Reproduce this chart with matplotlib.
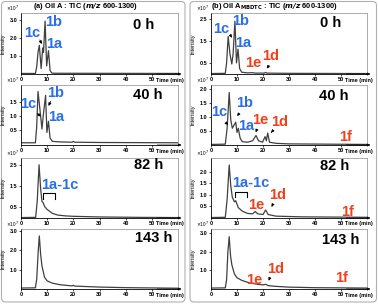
import matplotlib
matplotlib.use("Agg")
import matplotlib.pyplot as plt
from matplotlib.patches import FancyBboxPatch

plt.rcParams['font.family'] = ['Liberation Sans', 'DejaVu Sans']

W, H = 378, 304
BLUE = '#2a6ee8'
RED = '#f0401c'

hours = ["0 h", "40 h", "82 h", "143 h"]
xticks = [0, 10, 20, 30, 40, 50]

# Oil A - TIC traces, time (min) / intensity (x10^7)
a0_t = [0, 5.5, 6.0, 6.5, 7.0, 7.7, 8.3, 8.6, 9.2, 9.8, 10.5, 11.1, 11.8, 13, 20, 60]
a0_i = [0.03, 0.03, 0.4, 1.2, 1.6, 0.3, 1.45, 1.2, 2.95, 0.45, 1.3, 0.2, 0.05, 0.04, 0.04, 0.03]
a40_t = [0, 5.5, 6.0, 6.5, 7.6, 8.0, 8.5, 9.4, 9.9, 10.5, 11.1, 12, 15, 19.5, 20, 20.5, 30, 60]
a40_i = [0.03, 0.03, 0.6, 1.87, 0.9, 0.52, 1.0, 1.73, 0.4, 0.8, 0.2, 0.08, 0.06, 0.05, 0.08, 0.05, 0.04, 0.03]
a82_t = [0, 5.6, 6.2, 6.9, 7.5, 8.0, 8.5, 9.0, 10.0, 10.5, 12, 14, 17, 20, 30, 45, 60]
a82_i = [0.02, 0.03, 0.8, 2.53, 1.4, 0.8, 0.72, 0.55, 0.4, 0.36, 0.22, 0.14, 0.1, 0.08, 0.05, 0.03, 0.02]
a143_t = [0, 5.5, 6.0, 6.6, 7.0, 7.5, 8.0, 9.0, 10, 12, 15, 19.5, 20, 20.5, 30, 40, 60]
a143_i = [0.05, 0.06, 0.5, 2.0, 2.74, 1.8, 1.2, 0.6, 0.42, 0.3, 0.22, 0.16, 0.19, 0.15, 0.1, 0.07, 0.04]

# Oil A_MBDTC - TIC traces
b0_t = [0, 5.5, 6.0, 6.6, 7.3, 8.0, 8.5, 9.2, 9.8, 10.4, 11.0, 11.8, 14, 16, 17, 20.5, 21, 21.5, 30, 60]
b0_i = [0.02, 0.03, 0.5, 1.69, 0.9, 0.45, 0.9, 2.38, 0.5, 1.12, 0.25, 0.08, 0.05, 0.06, 0.04, 0.04, 0.07, 0.04, 0.03, 0.02]
b40_t = [0, 5.5, 6.2, 7.0, 7.6, 8.2, 8.8, 9.5, 10.0, 10.5, 11.2, 12, 14, 16, 17.3, 18.3, 19.8, 20.8, 21.3, 21.8, 22.5, 25, 30, 60]
b40_i = [0.02, 0.03, 0.6, 1.88, 0.9, 0.6, 0.7, 0.82, 0.45, 0.6, 0.25, 0.12, 0.1, 0.15, 0.34, 0.15, 0.1, 0.3, 0.15, 0.43, 0.1, 0.06, 0.04, 0.02]
b82_t = [0, 5.5, 6.2, 7.0, 7.6, 8.2, 9.0, 9.5, 10.5, 12, 14, 16, 17, 18, 20, 21, 22, 25, 35, 60]
b82_i = [0.02, 0.03, 0.8, 2.3, 1.4, 0.9, 0.7, 0.75, 0.45, 0.3, 0.2, 0.18, 0.28, 0.18, 0.15, 0.35, 0.15, 0.08, 0.05, 0.03]
b143_t = [0, 5.5, 6.0, 6.5, 7.0, 7.5, 8.0, 9, 10, 12, 15, 18, 20, 21, 22, 25, 30, 40, 60]
b143_i = [0.05, 0.06, 0.5, 2.0, 2.79, 1.8, 1.3, 0.8, 0.6, 0.45, 0.32, 0.25, 0.22, 0.25, 0.18, 0.14, 0.1, 0.07, 0.05]

a_ylims = [(0, 3.4), (-0.05, 2.1), (0, 2.85), (0, 3.1)]
b_ylims = [(0, 2.75), (0, 2.15), (0, 2.6), (0, 3.2)]
a_yticks = [[1.0, 2.0, 3.0], [0.5, 1.0, 1.5], [0.5, 1.5, 2.5], [1.0, 2.0, 3.0]]
b_yticks = [[0.5, 1.5, 2.5], [0.5, 1.0, 1.5, 2.0], [0.5, 1.0, 1.5, 2.0], [1.0, 2.0, 3.0]]

row_top = [13, 85, 158, 229]
row_bot = [74, 145, 218, 289]


def make_panel(fig, x0, w, top, bot, t, inten, ylim, yticks):
    ax = fig.add_axes([x0 / W, 1 - bot / H, w / W, (bot - top) / H])
    ax.plot(t, inten, color='#404040', lw=0.9)
    ax.set_xlim(0, 60)
    ax.set_ylim(*ylim)
    ax.set_xticks(xticks)
    ax.set_yticks(yticks)
    ax.set_yticklabels([f"{v:.1f}" for v in yticks])
    ax.tick_params(labelsize=4, length=1.5, width=0.5, pad=1)
    for lab in ax.get_xticklabels() + ax.get_yticklabels():
        lab.set_fontweight('bold')
    for s in ['top', 'right']:
        ax.spines[s].set_color('#8a8a8a')
        ax.spines[s].set_linewidth(0.5)
    for s in ['left', 'bottom']:
        ax.spines[s].set_color('black')
        ax.spines[s].set_linewidth(0.6)
    ax.set_ylabel('Intensity', fontsize=4)
    ax.yaxis.set_label_coords(-0.1, 0.5)
    ax.text(-0.01, 1.075, r'$\times$10$^7$', transform=ax.transAxes, fontsize=3.4,
            ha='right', va='center')
    ax.annotate('', xy=(1.04, 0), xytext=(0.85, 0), xycoords='axes fraction',
                arrowprops=dict(arrowstyle='-|>', color='black', lw=0.5, mutation_scale=4),
                annotation_clip=False)
    ax.text(1.04, -0.1, 'Time (min)', transform=ax.transAxes, fontsize=4,
            fontweight='bold', ha='right', va='center')
    return ax


def label(ax, s, x, y, color='black'):
    ax.text(x, y, s, transform=ax.transAxes, fontsize=10.5, fontweight='bold',
            color=color, ha='center', va='center')


def arrow(ax, start, end):
    ax.annotate('', xy=end, xytext=start, xycoords='axes fraction',
                arrowprops=dict(arrowstyle='-|>', color='black', lw=0.6, mutation_scale=4))


def bracket(ax, x1, x2, yt, yb):
    ax.plot([x1, x1, x2, x2], [yb, yt, yt, yb], transform=ax.transAxes,
            color='black', lw=0.8)


fig = plt.figure(figsize=(W / 100, H / 100), dpi=100)

bg = fig.add_axes([0, 0, 1, 1])
bg.set_xlim(0, W)
bg.set_ylim(H, 0)
bg.axis('off')
for fx0, fx1 in [(1.5, 185), (190, 376.5)]:
    bg.add_patch(FancyBboxPatch((fx0, 1.5), fx1 - fx0, 300.5,
                                boxstyle='round,pad=0,rounding_size=4',
                                fc='none', ec='#b0b0b0', lw=0.8))
bg.text(85, 6.5, r'(a) Oil A : TIC ($\bfit{m/z}$ 600-1300)', fontsize=5.4,
        fontweight='bold', ha='center', va='center')
bg.text(274, 6.5, r'(b) Oil A$_{\bf MBDTC}$ : TIC ($\bfit{m/z}$ 600-1300)', fontsize=5.4,
        fontweight='bold', ha='center', va='center')

a_data = [(a0_t, a0_i), (a40_t, a40_i), (a82_t, a82_i), (a143_t, a143_i)]
b_data = [(b0_t, b0_i), (b40_t, b40_i), (b82_t, b82_i), (b143_t, b143_i)]

A = []
B = []
for k in range(4):
    A.append(make_panel(fig, 21, 157, row_top[k], row_bot[k], a_data[k][0], a_data[k][1],
                        a_ylims[k], a_yticks[k]))
    B.append(make_panel(fig, 211, 156, row_top[k], row_bot[k], b_data[k][0], b_data[k][1],
                        b_ylims[k], b_yticks[k]))

# hour labels
hx = [0.78, 0.81, 0.81, 0.846]
hy = [0.80, 0.83, 0.88, 0.845]
bhx = [0.766, 0.79, 0.79, 0.83]
bhy = [0.83, 0.82, 0.87, 0.817]
for k in range(4):
    label(A[k], hours[k], hx[k], hy[k])
    label(B[k], hours[k], bhx[k], bhy[k])

# (a) 0 h
label(A[0], '1c', 0.069, 0.667, BLUE)
label(A[0], '1b', 0.207, 0.857, BLUE)
label(A[0], '1a', 0.214, 0.487, BLUE)
arrow(A[0], (0.113, 0.60), (0.139, 0.45))
# (a) 40 h
label(A[1], '1c', 0.047, 0.68, BLUE)
label(A[1], '1b', 0.218, 0.86, BLUE)
label(A[1], '1a', 0.224, 0.47, BLUE)
arrow(A[1], (0.09, 0.555), (0.139, 0.445))
arrow(A[1], (0.197, 0.767), (0.167, 0.61))
# (a) 82 h
label(A[2], '1a-1c', 0.25, 0.55, BLUE)
bracket(A[2], 0.143, 0.218, 0.422, 0.31)

# (b) 0 h
label(B[0], '1c', 0.066, 0.733, BLUE)
label(B[0], '1b', 0.193, 0.87, BLUE)
label(B[0], '1a', 0.204, 0.513, BLUE)
label(B[0], '1e', 0.274, 0.185, RED)
label(B[0], '1d', 0.38, 0.295, RED)
arrow(B[0], (0.12, 0.65), (0.145, 0.56))
arrow(B[0], (0.384, 0.175), (0.345, 0.055))
# (b) 40 h
label(B[1], '1c', 0.055, 0.555, BLUE)
label(B[1], '1b', 0.215, 0.695, BLUE)
label(B[1], '1a', 0.225, 0.32, BLUE)
label(B[1], '1e', 0.317, 0.415, RED)
label(B[1], '1d', 0.437, 0.39, RED)
label(B[1], '1f', 0.862, 0.13, RED)
arrow(B[1], (0.087, 0.39), (0.123, 0.305))
arrow(B[1], (0.189, 0.555), (0.157, 0.445))
arrow(B[1], (0.30, 0.29), (0.278, 0.17))
arrow(B[1], (0.40, 0.25), (0.374, 0.17))
# (b) 82 h
label(B[2], '1a-1c', 0.257, 0.58, BLUE)
bracket(B[2], 0.155, 0.231, 0.44, 0.355)
label(B[2], '1e', 0.29, 0.217, RED)
label(B[2], '1d', 0.427, 0.383, RED)
label(B[2], '1f', 0.873, 0.105, RED)
arrow(B[2], (0.40, 0.245), (0.38, 0.145))
# (b) 143 h
label(B[3], '1e', 0.278, 0.15, RED)
label(B[3], '1d', 0.416, 0.333, RED)
label(B[3], '1f', 0.84, 0.178, RED)
arrow(B[3], (0.384, 0.233), (0.363, 0.095))

fig.savefig('out.png', dpi=100)
